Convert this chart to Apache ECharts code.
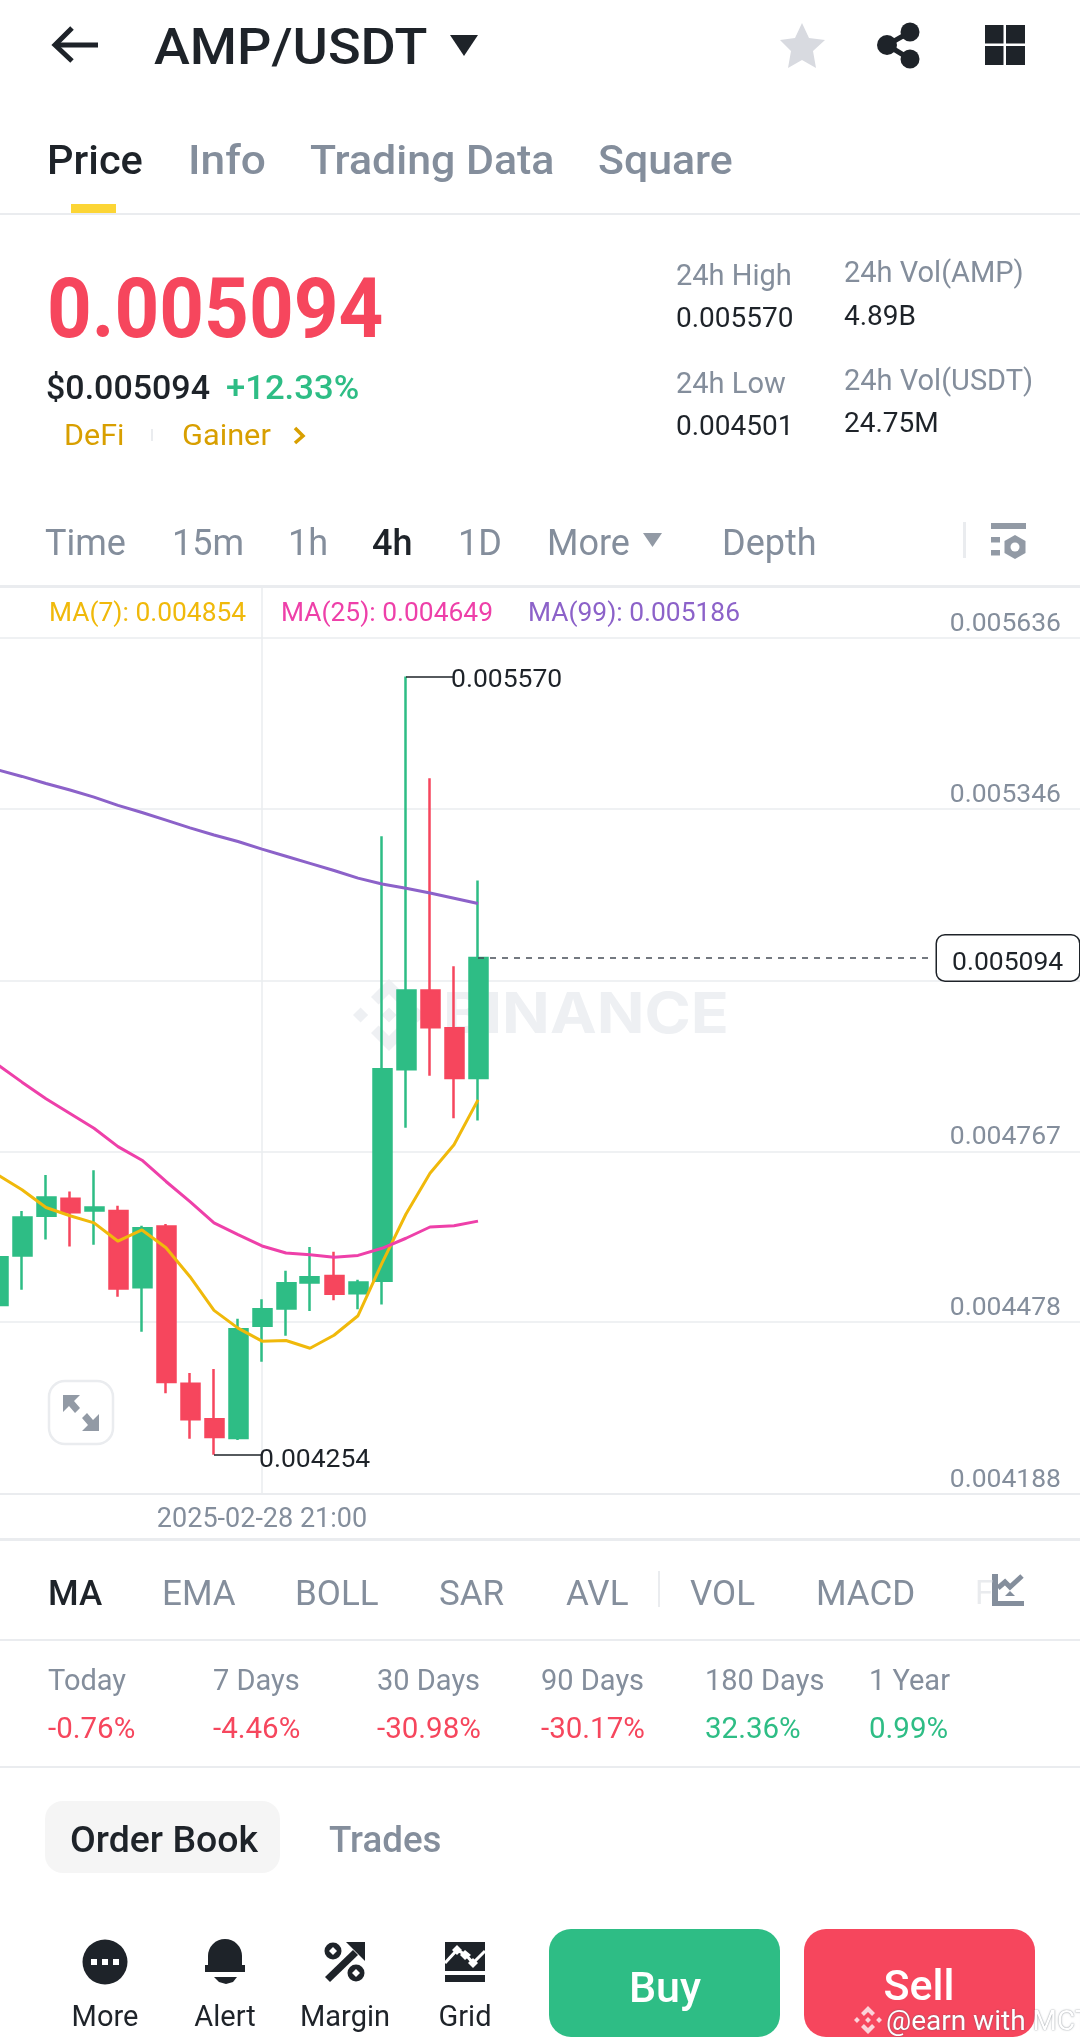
<!DOCTYPE html>
<html>
<head>
<meta charset="utf-8">
<title>AMP/USDT</title>
<style>
html, body { margin: 0; padding: 0; background: #fff; }
#main { width: 1080px; height: 2044px; }
</style>
<script src="https://cdn.jsdelivr.net/npm/echarts@6/dist/echarts.min.js"></script>
</head>
<body>
<div id="main"></div>
<script>
// candle data
var candleTimes = ['2025-02-27 01:00', '2025-02-27 05:00', '2025-02-27 09:00', '2025-02-27 13:00', '2025-02-27 17:00', '2025-02-27 21:00', '2025-02-28 01:00', '2025-02-28 05:00', '2025-02-28 09:00', '2025-02-28 13:00', '2025-02-28 17:00', '2025-02-28 21:00', '2025-03-01 01:00', '2025-03-01 05:00', '2025-03-01 09:00', '2025-03-01 13:00', '2025-03-01 17:00', '2025-03-01 21:00', '2025-03-02 01:00', '2025-03-02 05:00', '2025-03-02 09:00'];
var opens = [0.004507, 0.004591, 0.004658, 0.004687, 0.004667, 0.004666, 0.004537, 0.00464, 0.004374, 0.004314, 0.004282, 0.004472, 0.004501, 0.004545, 0.004556, 0.004527, 0.004548, 0.004906, 0.005039, 0.004975, 0.004891];
var closes = [0.004588, 0.004655, 0.004689, 0.004664, 0.004672, 0.004535, 0.004637, 0.004377, 0.004314, 0.004284, 0.004466, 0.0045, 0.004544, 0.004554, 0.004526, 0.004545, 0.004906, 0.005039, 0.004977, 0.004891, 0.005094];
var lows = [0.004499, 0.004533, 0.004618, 0.004606, 0.004609, 0.004521, 0.004462, 0.004358, 0.004281, 0.004254, 0.004279, 0.004411, 0.004455, 0.004497, 0.004515, 0.0045, 0.004508, 0.004807, 0.004895, 0.004823, 0.004819];
var highs = [0.0046, 0.004666, 0.004727, 0.004699, 0.004735, 0.004675, 0.004641, 0.004644, 0.004392, 0.004399, 0.004484, 0.004517, 0.004565, 0.004605, 0.004597, 0.00455, 0.0053, 0.00557, 0.005398, 0.00508, 0.005225];
var ma7 = [0.004727, 0.004702, 0.004672, 0.004658, 0.004646, 0.004615, 0.004634, 0.004604, 0.004555, 0.004498, 0.004468, 0.004446, 0.004447, 0.004434, 0.004456, 0.004489, 0.004578, 0.004661, 0.00473, 0.004778, 0.004854];
var ma25 = [0.004913, 0.004884, 0.004856, 0.004831, 0.004806, 0.004775, 0.004752, 0.004716, 0.004682, 0.004646, 0.004626, 0.004607, 0.004595, 0.004592, 0.004588, 0.004591, 0.004603, 0.00462, 0.004639, 0.004641, 0.004649];
var ma99 = [0.005412, 0.005401, 0.005389, 0.005378, 0.005366, 0.005352, 0.00534, 0.005327, 0.005314, 0.005302, 0.005291, 0.005278, 0.005266, 0.005254, 0.005242, 0.005229, 0.005219, 0.005212, 0.005204, 0.005195, 0.005186];
var yTicks = [0.004188, 0.004478, 0.004767, 0.005056, 0.005346, 0.005636];
var lastPrice = 0.005094;
var dayHigh = 0.00557;
var dayLow = 0.004254;

var maLegend = ['MA(7): 0.004854', 'MA(25): 0.004649', 'MA(99): 0.005186'];
var tabs = ['Price', 'Info', 'Trading Data', 'Square'];
var intervals = ['Time', '15m', '1h', '4h', '1D', 'More', 'Depth'];
var indicators = ['MA', 'EMA', 'BOLL', 'SAR', 'AVL', 'VOL', 'MACD'];
var periods = ['Today', '7 Days', '30 Days', '90 Days', '180 Days', '1 Year'];
var periodChanges = ['-0.76%', '-4.46%', '-30.98%', '-30.17%', '32.36%', '0.99%'];

var DARK = '#1e2329', GRAY = '#848e9c', UP = '#2ebd85', DOWN = '#f6465d', LINE = '#eaecef', GOLD = '#d89f00', ICON = '#929aa5';
var FONT = 'Roboto';

// right side of the axis is empty space
var slots = candleTimes.slice();
while (slots.length < 46) slots.push('');

var candles = opens.map(function (o, i) {
	return [o, closes[i], lows[i], highs[i]];
});

var g = [];
// sx widens or narrows a word to the width it has in the picture
function txt(x, y, s, size, color, weight, align, sx, extra) {
	var st = {
		text: s,
		font: (weight || 400) + ' ' + size + 'px ' + FONT,
		fill: color,
		align: align || 'left',
		verticalAlign: 'middle',
		textAlign: align || 'left',
		textVerticalAlign: 'middle'
	};
	for (var k in extra) st[k] = extra[k];
	g.push({ type: 'text', x: x, y: y + size * 0.09, z: 5, scaleX: sx || 1, style: st });
}
function box(x, y, w, h, color, r) {
	g.push({ type: 'rect', z: 4, shape: { x: x, y: y, width: w, height: h, r: r || 0 }, style: { fill: color } });
}
function poly(pts, color) {
	g.push({ type: 'polygon', z: 4, shape: { points: pts }, style: { fill: color } });
}
function stroke(pts, color, w) {
	g.push({ type: 'polyline', z: 4, shape: { points: pts }, style: { stroke: color, lineWidth: w, fill: null } });
}
function dot(x, y, r, color) {
	g.push({ type: 'circle', z: 4, shape: { cx: x, cy: y, r: r }, style: { fill: color } });
}
// binance diamond mark
function logo(cx, cy, s, color, z) {
	var parts = [
		[[0, -1], [0.5, -0.5], [0.29, -0.29], [0, -0.58], [-0.29, -0.29], [-0.5, -0.5]],
		[[0, 1], [0.5, 0.5], [0.29, 0.29], [0, 0.58], [-0.29, 0.29], [-0.5, 0.5]],
		[[0, -0.21], [0.21, 0], [0, 0.21], [-0.21, 0]],
		[[-1, 0], [-0.79, -0.21], [-0.58, 0], [-0.79, 0.21]],
		[[1, 0], [0.79, -0.21], [0.58, 0], [0.79, 0.21]]
	];
	parts.forEach(function (p) {
		g.push({
			type: 'polygon', z: z,
			shape: { points: p.map(function (q) { return [cx + q[0] * s, cy + q[1] * s]; }) },
			style: { fill: color }
		});
	});
}

// header
stroke([[72, 28], [55, 45], [72, 61]], DARK, 5);
box(55, 42.5, 43, 5, DARK);
txt(154, 47, 'AMP/USDT', 50, DARK, 500, 'left', 1.08);
poly([[450, 35], [478, 35], [464, 56]], DARK);
poly([[802, 23], [809, 38], [825, 40], [813, 51], [816, 68], [802, 60], [788, 68], [791, 51], [780, 40], [795, 38]], '#d8dae0');
stroke([[910, 32], [887, 45], [910, 59]], DARK, 5);
dot(887, 45, 10, DARK); dot(910, 32, 9.5, DARK); dot(910, 59, 9.5, DARK);
box(985, 25, 18.5, 18.5, DARK); box(1006, 25, 19, 18.5, DARK);
box(985, 46, 18.5, 19, DARK); box(1006, 46, 19, 19, DARK);

// tabs
var tabX = [47, 188, 310, 598];
var tabStretch = [1.015, 1.08, 1.045, 1.045];
tabs.forEach(function (t, i) {
	txt(tabX[i], 160, t, 41, i === 0 ? DARK : GRAY, 500, 'left', tabStretch[i]);
});
box(71, 204, 45, 9, '#fcd535');
box(0, 213, 1080, 2, LINE);

// price block
txt(47, 308, lastPrice.toFixed(6), 84, DOWN, 700, 'left', 0.93);
txt(46, 388, '$0.005094', 33, DARK, 500, 'left', 1.03);
txt(226, 388, '+12.33%', 33, UP, 500, 'left', 1.05);
txt(64, 435, 'DeFi', 29, GOLD, 400, 'left', 1.05);
box(151, 429, 2, 12, LINE);
txt(182, 435, 'Gainer', 29, GOLD, 400, 'left', 1.06);
stroke([[295, 428], [303, 436], [295, 443]], GOLD, 3.5);

txt(676, 275, '24h High', 29, GRAY);
txt(676, 317, '0.005570', 28, DARK);
txt(676, 383, '24h Low', 29, GRAY);
txt(676, 425, '0.004501', 28, DARK);
txt(844, 272, '24h Vol(AMP)', 29, GRAY);
txt(844, 315, '4.89B', 28, DARK);
txt(844, 380, '24h Vol(USDT)', 29, GRAY);
txt(844, 422, '24.75M', 28, DARK);

// interval row
var intervalX = [45, 172, 288, 372, 458, 547, 722];
intervals.forEach(function (t, i) {
	txt(intervalX[i], 543, t, 36, i === 3 ? DARK : GRAY, i === 3 ? 500 : 400);
});
poly([[643, 533], [662, 533], [652.5, 547]], ICON);
box(963, 522, 3, 36, LINE);
box(991, 523, 35, 6, ICON);
box(991, 537, 9, 5.5, ICON);
box(991, 550, 9, 5.5, ICON);
poly([[1015, 535], [1025.5, 541], [1025.5, 553], [1015, 559], [1004.5, 553], [1004.5, 541]], ICON);
dot(1015, 547, 4.5, '#fff');
box(0, 585, 1080, 3, LINE);

// MA values above the plot
var maColors = ['#f0b90b', '#ee40a9', '#8c62c9'];
var maX = [49, 281, 528];
maLegend.forEach(function (t, i) {
	txt(maX[i], 612, t, 25, maColors[i], 400, 'left', 1.055);
});

// watermark behind the candles
logo(389, 1015, 36, '#eef0f3', 0);
g.push({
	type: 'text', x: 443, y: 1016, z: 0, scaleX: 1.1,
	style: { text: 'BINANCE', font: '700 57px Inter', fill: '#eef0f3', align: 'left', verticalAlign: 'middle', textAlign: 'left', textVerticalAlign: 'middle' }
});

// expand button
g.push({ type: 'rect', z: 4, shape: { x: 49, y: 1381, width: 64, height: 63, r: 16 }, style: { fill: '#fff', stroke: LINE, lineWidth: 2.5 } });
poly([[63, 1395], [80, 1395], [74, 1401], [80, 1408], [75, 1413], [69, 1406], [63, 1412]], ICON);
poly([[99, 1431], [82, 1431], [88, 1425], [82, 1418], [87, 1413], [93, 1420], [99, 1414]], ICON);

// indicator row
box(0, 1538, 1080, 3, LINE);
var indicatorX = [48, 162, 295, 439, 566, 690, 816];
indicators.forEach(function (t, i) {
	txt(indicatorX[i], 1593, t, 35, i === 0 ? DARK : GRAY, i === 0 ? 500 : 400);
});
box(658, 1571, 2, 36, LINE);
txt(975, 1593, 'F', 33, '#e9ebee');
box(992, 1574, 6, 32, GRAY);
box(992, 1601, 32, 5, GRAY);
stroke([[998, 1588], [1005, 1582], [1010, 1587], [1022, 1576]], GRAY, 5);
poly([[1010, 1591], [1005, 1596], [1015, 1596]], GRAY);
box(0, 1639, 1080, 2, LINE);

// period change table
var periodX = [48, 213, 377, 541, 705, 869];
periods.forEach(function (t, i) {
	txt(periodX[i], 1680, t, 29, GRAY);
	txt(periodX[i], 1728, periodChanges[i], 29.5, periodChanges[i].charAt(0) === '-' ? DOWN : UP);
});
box(0, 1766, 1080, 2, LINE);

// order book tabs
box(45, 1801, 235, 72, '#f5f5f5', 18);
txt(70, 1840, 'Order Book', 36, DARK, 500, 'left', 1.04);
txt(329, 1840, 'Trades', 36, GRAY, 500, 'left', 1.02);

// bottom bar icons
dot(105, 1962, 22.5, DARK);
box(91, 1959, 6, 6, '#fff'); box(102, 1959, 6, 6, '#fff'); box(113, 1959, 6, 6, '#fff');
box(208, 1939, 34, 30, DARK, [17, 17, 0, 0]);
box(205, 1965, 40, 7, DARK);
poly([[214, 1977], [237, 1977], [233, 1982], [226, 1984], [219, 1982]], DARK);
dot(333, 1951, 8.5, DARK); poly([[333, 1947], [337, 1951], [333, 1955], [329, 1951]], '#fff');
dot(356, 1973, 8.5, DARK); poly([[356, 1969], [360, 1973], [356, 1977], [352, 1973]], '#fff');
poly([[346, 1942], [365, 1942], [365, 1961]], DARK);
poly([[325, 1977], [330, 1982], [358, 1955], [353, 1950]], DARK);
box(445, 1942, 40, 29, DARK);
stroke([[445, 1963], [457, 1950], [466, 1955], [473, 1963], [485, 1951]], '#fff', 3);
poly([[457, 1945], [462, 1950], [457, 1955], [452, 1950]], '#fff');
poly([[465, 1950], [471, 1955], [465, 1960], [460, 1955]], '#fff');
poly([[473, 1958], [478, 1963], [473, 1968], [468, 1963]], '#fff');
box(445, 1975, 40, 7, DARK);

var barLabels = ['More', 'Alert', 'Margin', 'Grid'];
var barX = [105, 225, 345, 465];
barLabels.forEach(function (t, i) {
	txt(barX[i], 2016, t, 29, DARK, 400, 'center');
});

// buy / sell
box(549, 1929, 231, 108, UP, 22);
box(804, 1929, 231, 108, DOWN, 22);
txt(665, 1987, 'Buy', 43, '#fff', 500, 'center');
txt(919, 1985, 'Sell', 43, '#fff', 500, 'center');

// photo watermark
logo(868, 2020, 14, '#fbd3d9', 5);
txt(886, 2020, '@earn with MCT', 28, '#fff', 400, 'left', 1, { textShadowColor: 'rgba(70,80,90,0.8)', textShadowBlur: 1.5 });

// top + lineHeight 2 lets padding push the value under its guide line
function priceLabel(value, pad, dist) {
	return {
		show: true, position: 'end', distance: dist, formatter: value.toFixed(6),
		color: DARK, fontFamily: FONT, fontSize: 26.5, opacity: 1,
		verticalAlign: 'top', lineHeight: 2, padding: [pad, 0, 0, 0]
	};
}

var myChart = echarts.init(document.getElementById('main'));
var option = {
	animation: false,
	backgroundColor: '#fff',
	graphic: { elements: g },
	// one band is 24px, first candle sits just off the left edge
	grid: { left: -14, top: 587.8, width: 1104, height: 905.9, outerBoundsMode: 'none' },
	xAxis: {
		type: 'category',
		data: slots,
		boundaryGap: true,
		axisLine: { show: true, lineStyle: { color: LINE, width: 2 } },
		axisTick: { show: false, alignWithLabel: true },
		axisLabel: {
			interval: function (i) { return i === 11; },
			color: GRAY, fontFamily: FONT, fontSize: 27, margin: 13
		},
		splitLine: {
			show: true,
			alignWithLabel: true,
			interval: function (i) { return i === 11; },
			lineStyle: { color: LINE, width: 1.5 }
		}
	},
	yAxis: {
		type: 'value',
		position: 'right',
		min: 0.004188,
		max: 0.00572,
		axisLine: { show: false },
		axisTick: { show: false, customValues: yTicks },
		axisLabel: {
			inside: true,
			customValues: yTicks,
			formatter: function (v) { return v.toFixed(6); },
			margin: 29,
			align: 'right',
			verticalAlign: 'bottom',
			color: GRAY, fontFamily: FONT, fontSize: 26.5
		},
		splitLine: { lineStyle: { color: LINE, width: 1.5 } }
	},
	series: [
		{
			// price guide lines sit under the candles
			name: 'marks',
			type: 'line',
			data: [],
			z: 1,
			markLine: {
				silent: true,
				symbol: 'none',
				animation: false,
				data: [
					// last price: dashed line ending in an empty tag
					[{
						coord: [20, lastPrice],
						lineStyle: { color: '#474d57', width: 1.5, type: [6, 6] },
						label: {
							show: true, position: 'end', distance: 3, formatter: ' ', width: 110,
							fontFamily: FONT, fontSize: 26.5,
							backgroundColor: '#fff', borderColor: DARK, borderWidth: 1.5, borderRadius: 8,
							padding: [9, 17, 9, 15]
						}
					}, { coord: [39, lastPrice] }],
					// the tag's value, on an invisible line so it can sit a little low in the tag
					[{
						coord: [38, lastPrice],
						lineStyle: { color: 'transparent' },
						label: priceLabel(lastPrice, 4, 18)
					}, { coord: [39, lastPrice] }],
					[{
						coord: [17, dayHigh],
						lineStyle: { color: DARK, width: 1.5, type: 'solid' },
						label: priceLabel(dayHigh, 3, -3)
					}, { coord: [19, dayHigh] }],
					[{
						coord: [9, dayLow],
						lineStyle: { color: DARK, width: 1.5, type: 'solid' },
						label: priceLabel(dayLow, 5, -3)
					}, { coord: [11, dayLow] }]
				]
			}
		},
		{
			name: 'kline',
			type: 'candlestick',
			data: candles,
			z: 2,
			barWidth: 18.5,
			itemStyle: { color: UP, color0: DOWN, borderColor: UP, borderColor0: DOWN, borderWidth: 2.5 }
		},
		{ name: 'MA7', type: 'line', data: ma7, z: 3, symbol: 'none', lineStyle: { color: '#f0b90b', width: 3 } },
		{ name: 'MA25', type: 'line', data: ma25, z: 3, symbol: 'none', lineStyle: { color: '#ee40a9', width: 3 } },
		{ name: 'MA99', type: 'line', data: ma99, z: 3, symbol: 'none', lineStyle: { color: '#8c62c9', width: 3 } }
	]
};
myChart.setOption(option);
window.onresize = myChart.resize;
</script>
</body>
</html>
